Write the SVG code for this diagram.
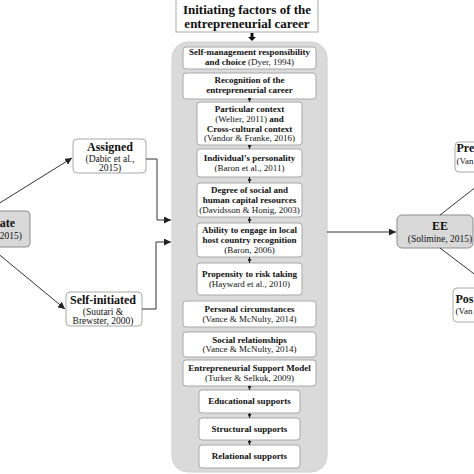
<svg xmlns="http://www.w3.org/2000/svg" width="474" height="474" viewBox="0 0 474 474">
<defs>
<marker id="ah" viewBox="0 0 10 10" refX="10" refY="5" markerWidth="7" markerHeight="7" markerUnits="userSpaceOnUse" orient="auto"><path d="M0,0 L10,5 L0,10 z" fill="#222"/></marker>
<marker id="sa" viewBox="0 0 10 10" refX="10" refY="5" markerWidth="4" markerHeight="4" markerUnits="userSpaceOnUse" orient="auto"><path d="M0,0 L10,5 L0,10 z" fill="#222"/></marker>
<style>
text{font-family:"Liberation Serif","Times New Roman",serif;fill:#111;text-anchor:middle}
.b{font-weight:bold;font-size:9px}
.r{font-size:9px}
.hb{font-weight:bold;font-size:12px}
.hr{font-size:9.5px}
.wb{fill:#fff;stroke:#a8a8a8;stroke-width:1}
.gb{fill:#d9d9d9;stroke:#8c8c8c;stroke-width:1}
.ln{fill:none;stroke:#333;stroke-width:1}
.sm{fill:none;stroke:#222;stroke-width:1}
</style>
</defs>
<rect width="474" height="474" fill="#fff"/>

<g id="title">
<rect class="wb" x="176" y="-1" width="142" height="33"/>
<text x="247" y="14" style="font-weight:bold;font-size:13px">Initiating factors of the</text>
<text x="247" y="28" style="font-weight:bold;font-size:13px">entrepreneurial career</text>
<polygon points="250.5,33 253.5,33 253.5,37 256,37 252,41 248,37 250.5,37" fill="#111"/>
</g>

<g id="container">
<rect x="172" y="42" width="155" height="430" rx="16" fill="#dadada" stroke="#cfcfcf"/>
</g>

<g id="n1"><rect class="wb" x="183" y="47" width="133" height="22" rx="3"/>
<text class="b" x="249.5" y="55">Self-management responsibility</text>
<text class="b" x="249.5" y="65">and choice <tspan style="font-weight:normal">(Dyer, 1994)</tspan></text></g>

<g id="n2"><rect class="wb" x="183" y="73" width="133" height="26" rx="3"/>
<text class="b" x="249.5" y="83">Recognition of the</text>
<text class="b" x="249.5" y="93">entrepreneurial career</text></g>

<g id="n3"><rect class="wb" x="197" y="102" width="105" height="43" rx="3"/>
<text class="b" x="249.5" y="112">Particular context</text>
<text class="r" x="249.5" y="122">(Welter, 2011) <tspan style="font-weight:bold">and</tspan></text>
<text class="b" x="249.5" y="132">Cross-cultural context</text>
<text class="r" x="249.5" y="141">(Vandor &amp; Franke, 2016)</text></g>

<g id="n4"><rect class="wb" x="197" y="149" width="105" height="28" rx="3"/>
<text class="b" x="249.5" y="161">Individual’s personality</text>
<text class="r" x="249.5" y="171">(Baron et al., 2011)</text></g>

<g id="n5"><rect class="wb" x="197" y="183" width="105" height="34" rx="3"/>
<text class="b" x="249.5" y="193">Degree of social and</text>
<text class="b" x="249.5" y="203">human capital resources</text>
<text class="r" x="249.5" y="213">(Davidsson &amp; Honig, 2003)</text></g>

<g id="n6"><rect class="wb" x="197" y="223" width="105" height="34" rx="3"/>
<text class="b" x="249.5" y="233">Ability to engage in local</text>
<text class="b" x="249.5" y="243">host country recognition</text>
<text class="r" x="249.5" y="253">(Baron, 2006)</text></g>

<g id="n7"><rect class="wb" x="197" y="263" width="105" height="32" rx="3"/>
<text class="b" x="249.5" y="277">Propensity to risk taking</text>
<text class="r" x="249.5" y="287">(Hayward et al., 2010)</text></g>

<g id="n8"><rect class="wb" x="183" y="301" width="133" height="26" rx="3"/>
<text class="b" x="249.5" y="312">Personal circumstances</text>
<text class="r" x="249.5" y="322">(Vance &amp; McNulty, 2014)</text></g>

<g id="n9"><rect class="wb" x="183" y="332" width="133" height="25" rx="3"/>
<text class="b" x="249.5" y="343">Social relationships</text>
<text class="r" x="249.5" y="352">(Vance &amp; McNulty, 2014)</text></g>

<g id="n10"><rect class="wb" x="183" y="360" width="133" height="26" rx="3"/>
<text class="b" x="249.5" y="371">Entrepreneurial Support Model</text>
<text class="r" x="249.5" y="381">(Turker &amp; Selkuk, 2009)</text></g>

<g id="n11"><rect class="wb" x="199" y="390" width="101" height="23" rx="3"/>
<text class="b" x="249.5" y="404">Educational supports</text></g>

<g id="n12"><rect class="wb" x="199" y="418" width="101" height="22" rx="3"/>
<text class="b" x="249.5" y="432">Structural supports</text></g>

<g id="n13"><rect class="wb" x="199" y="445" width="101" height="23" rx="3"/>
<text class="b" x="249.5" y="459">Relational supports</text></g>

<g id="expat"><rect class="gb" x="-20" y="211" width="50" height="36" rx="4"/>
<text class="hb" x="15" y="227" style="text-anchor:end">ate</text>
<text class="hr" x="22" y="239" style="text-anchor:end">2015)</text></g>

<g id="assigned"><rect class="wb" x="73" y="139" width="73" height="34" rx="4"/>
<text class="hb" x="110" y="151">Assigned</text>
<text class="hr" x="110" y="162">(Dabic et al.,</text>
<text class="hr" x="110" y="171">2015)</text></g>

<g id="selfinit"><rect class="wb" x="66" y="292" width="76" height="34" rx="4"/>
<text class="hb" x="103" y="304">Self-initiated</text>
<text class="hr" x="103" y="315">(Suutari &amp;</text>
<text class="hr" x="103" y="324">Brewster, 2000)</text></g>

<g id="ee"><rect class="gb" x="397" y="215" width="76" height="33" rx="5"/>
<text class="hb" x="440" y="230">EE</text>
<text class="hr" x="440" y="242">(Solimine, 2015)</text></g>

<g id="pre"><rect class="wb" x="455" y="142" width="30" height="30" rx="4"/>
<text class="hb" x="456.5" y="152" style="text-anchor:start">Pre</text>
<text x="456.5" y="164" style="text-anchor:start;font-size:9px">(Van</text></g>

<g id="post"><rect class="wb" x="453" y="288" width="30" height="34" rx="4"/>
<text class="hb" x="455.5" y="303" style="text-anchor:start">Pos</text>
<text x="455.5" y="314" style="text-anchor:start;font-size:9px">(Van</text></g>

<g id="connectors">
<line class="sm" x1="249.5" y1="99" x2="249.5" y2="102" marker-end="url(#sa)"/>
<line class="sm" x1="249.5" y1="145" x2="249.5" y2="149" marker-end="url(#sa)"/>
<line class="sm" x1="249.5" y1="177" x2="249.5" y2="183" marker-end="url(#sa)"/>
<line class="sm" x1="249.5" y1="217" x2="249.5" y2="223" marker-end="url(#sa)"/>
<line class="sm" x1="249.5" y1="257" x2="249.5" y2="263" marker-end="url(#sa)"/>
<line class="sm" x1="249.5" y1="386" x2="249.5" y2="390" marker-end="url(#sa)"/>
<line class="sm" x1="249.5" y1="413" x2="249.5" y2="418" marker-end="url(#sa)"/>
<line class="sm" x1="249.5" y1="440" x2="249.5" y2="445" marker-end="url(#sa)"/>
<line class="ln" x1="-10" y1="209" x2="72" y2="158" marker-end="url(#ah)"/>
<line class="ln" x1="-10" y1="247" x2="65" y2="309" marker-end="url(#ah)"/>
<polyline class="ln" points="146,159 157,159 157,220 171,220" marker-end="url(#ah)"/>
<polyline class="ln" points="142,309 156,309 156,242 171,242" marker-end="url(#ah)"/>
<line class="ln" x1="327" y1="232" x2="396" y2="232" marker-end="url(#ah)"/>
<line class="ln" x1="440" y1="215" x2="490" y2="176"/>
<line class="ln" x1="440" y1="248" x2="490" y2="286"/>
</g>
</svg>
